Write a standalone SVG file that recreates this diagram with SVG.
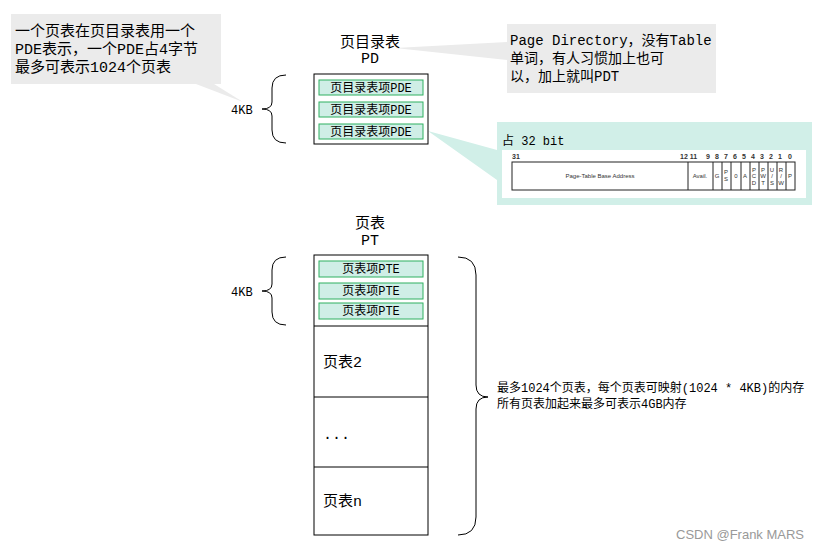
<svg xmlns="http://www.w3.org/2000/svg" width="837" height="549" viewBox="0 0 837 549">
<style>
text{font-family:"Liberation Mono","Noto Sans CJK SC",monospace;fill:#000}
.t{font-size:15px}
.s{font-size:12px}
.e{fill:#cfeee6;stroke:#2fb060;stroke-width:1}
.box{fill:#fff;stroke:#000;stroke-width:1}
.br{fill:none;stroke:#000;stroke-width:1}
.bf text{font-family:"Liberation Sans",sans-serif;font-size:6px;fill:#333}
.bf .n{font-size:7px;font-weight:bold}
.bf rect,.bf line{stroke:#222;fill:none;stroke-width:1}
</style>
<rect width="837" height="549" fill="#fff"/>
<g id="callout1">
<path d="M11,14H221V84H214L243,102L196,84H11Z" fill="#ebebeb"/>
<text class="t" x="15" y="36">一个页表在页目录表用一个</text>
<text class="t" x="15" y="54">PDE表示，一个PDE占4字节</text>
<text class="t" x="15" y="72">最多可表示1024个页表</text>
</g>
<g id="callout2">
<path d="M507,24H716V93H507V60L395,48L507,42Z" fill="#ebebeb"/>
<text class="t" x="510" y="45" style="font-size:14px">Page Directory，没有Table</text>
<text class="t" x="510" y="63" style="font-size:14px">单词，有人习惯加上也可</text>
<text class="t" x="510" y="81" style="font-size:14px">以，加上就叫PDT</text>
</g>
<g id="callout3">
<path d="M497,122H812V205H497V180L428,131L497,150Z" fill="#d1efe8"/>
<rect x="502" y="150" width="304" height="48" fill="#fff"/>
<text x="502" y="145" style="font-size:12px">占 32 bit</text>
<g class="bf">
<text class="n" x="512" y="159">31</text><text class="n" x="680" y="159">12 11</text>
<text class="n" x="706" y="159">9</text><text class="n" x="715" y="159">8</text><text class="n" x="724" y="159">7</text><text class="n" x="733" y="159">6</text><text class="n" x="742" y="159">5</text><text class="n" x="751" y="159">4</text><text class="n" x="760" y="159">3</text><text class="n" x="769" y="159">2</text><text class="n" x="778" y="159">1</text><text class="n" x="788" y="159">0</text>
<rect x="512" y="162" width="283" height="28"/>
<line x1="688" y1="162" x2="688" y2="190"/><line x1="713" y1="162" x2="713" y2="190"/>
<line x1="722" y1="162" x2="722" y2="190"/><line x1="731" y1="162" x2="731" y2="190"/>
<line x1="741" y1="162" x2="741" y2="190"/><line x1="750" y1="162" x2="750" y2="190"/>
<line x1="759" y1="162" x2="759" y2="190"/><line x1="768" y1="162" x2="768" y2="190"/>
<line x1="777" y1="162" x2="777" y2="190"/><line x1="786" y1="162" x2="786" y2="190"/>
<text x="600" y="178" text-anchor="middle">Page-Table Base Address</text>
<text x="700" y="178" text-anchor="middle">Avail.</text>
<text x="717" y="178" text-anchor="middle">G</text>
<text x="726" y="174" text-anchor="middle">P</text><text x="726" y="181" text-anchor="middle">S</text>
<text x="736" y="178" text-anchor="middle">0</text>
<text x="745" y="178" text-anchor="middle">A</text>
<text x="754" y="172" text-anchor="middle">P</text><text x="754" y="178" text-anchor="middle">C</text><text x="754" y="185" text-anchor="middle">D</text>
<text x="763" y="172" text-anchor="middle">P</text><text x="763" y="178" text-anchor="middle">W</text><text x="763" y="185" text-anchor="middle">T</text>
<text x="772" y="172" text-anchor="middle">U</text><text x="772" y="178" text-anchor="middle">/</text><text x="772" y="185" text-anchor="middle">S</text>
<text x="781" y="172" text-anchor="middle">R</text><text x="781" y="178" text-anchor="middle">/</text><text x="781" y="185" text-anchor="middle">W</text>
<text x="790" y="178" text-anchor="middle">P</text>
</g>
</g>
<g id="pd">
<text class="t" x="370" y="47" text-anchor="middle">页目录表</text>
<text class="t" x="370" y="63" text-anchor="middle">PD</text>
<rect class="box" x="314" y="74" width="114" height="70"/>
<rect class="e" x="319" y="80" width="104" height="15"/><text class="s" x="371" y="92" text-anchor="middle">页目录表项PDE</text>
<rect class="e" x="319" y="102" width="104" height="15"/><text class="s" x="371" y="114" text-anchor="middle">页目录表项PDE</text>
<rect class="e" x="319" y="124" width="104" height="15"/><text class="s" x="371" y="136" text-anchor="middle">页目录表项PDE</text>
</g>
<g id="pt">
<text class="t" x="370" y="228" text-anchor="middle">页表</text>
<text class="t" x="370" y="245" text-anchor="middle">PT</text>
<rect class="box" x="314" y="255" width="114" height="280"/>
<line x1="314" y1="326" x2="428" y2="326" stroke="#000"/>
<line x1="314" y1="397" x2="428" y2="397" stroke="#000"/>
<line x1="314" y1="467" x2="428" y2="467" stroke="#000"/>
<rect class="e" x="319" y="261" width="104" height="16"/><text class="s" x="371" y="273" text-anchor="middle">页表项PTE</text>
<rect class="e" x="319" y="283" width="104" height="16"/><text class="s" x="371" y="295" text-anchor="middle">页表项PTE</text>
<rect class="e" x="319" y="303" width="104" height="16"/><text class="s" x="371" y="315" text-anchor="middle">页表项PTE</text>
<text class="t" x="323" y="367">页表2</text>
<text class="t" x="323" y="439">...</text>
<text class="t" x="323" y="506">页表n</text>
</g>
<g id="connectors">
<path class="br" d="M286,75Q272,75 272,88V102Q272,109 262,109Q272,109 272,116V130Q272,143 286,143"/>
<path class="br" d="M286,257Q272,257 272,270V284Q272,291 262,291Q272,291 272,298V312Q272,325 286,325"/>
<path class="br" d="M458,257Q476,257 476,275V385Q476,397 488,397Q476,397 476,409V517Q476,535 458,535"/>
</g>
<text class="s" x="231" y="114">4KB</text>
<text class="s" x="231" y="296">4KB</text>
<text class="s" x="497" y="392">最多1024个页表，每个页表可映射(1024 * 4KB)的内存</text>
<text class="s" x="497" y="408">所有页表加起来最多可表示4GB内存</text>
<text x="676" y="539" style="font-family:'Liberation Sans',sans-serif;font-size:13px;fill:#999">CSDN @Frank MARS</text>
</svg>
